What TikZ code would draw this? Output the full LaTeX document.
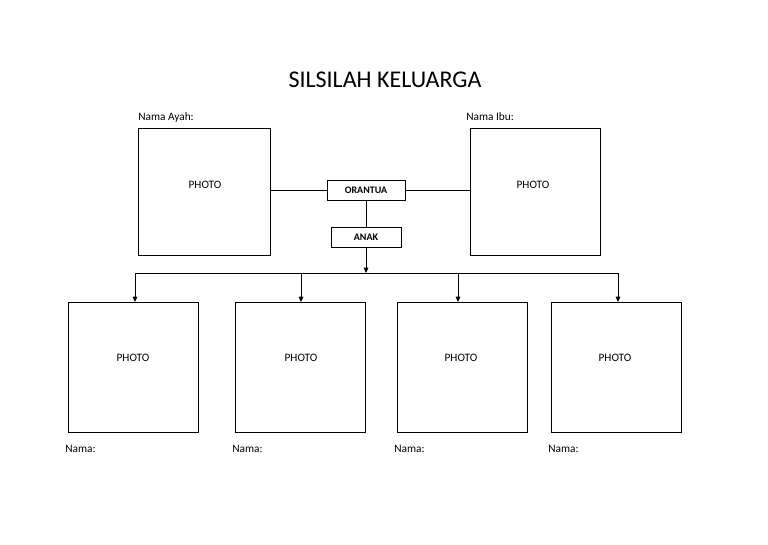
\documentclass[tikz,border=0pt]{standalone}
\usepackage{fontspec}
\setmainfont{Carlito}
\usetikzlibrary{arrows.meta}
\begin{document}
\begin{tikzpicture}[x=0.75pt,y=-0.75pt,
  photo/.style={draw,line width=0.8pt,inner sep=0pt},
  lbl/.style={font=\fontsize{8.5}{10}\selectfont,inner sep=0pt},
  tag/.style={draw,line width=0.7pt,font=\fontsize{7.5}{9}\selectfont\bfseries,inner sep=0pt},
  conn/.style={line width=0.7pt},
  arr/.style={conn,-{Triangle[length=4pt,width=3.5pt]}}]
\useasboundingbox (0,0) rectangle (768,544);
\node[font=\fontsize{18}{20}\selectfont] (title) at (385,80) {SILSILAH KELUARGA};
\node[photo,minimum width=99pt,minimum height=95pt,anchor=north west] (ayah) at (138,128) {};
\node[photo,minimum width=97.5pt,minimum height=95pt,anchor=north west] (ibu) at (470,128) {};
\node[lbl,anchor=west] (nayah) at (138,117) {Nama Ayah:};
\node[lbl,anchor=west] (nibu) at (466,117) {Nama Ibu:};
\node[lbl] (p1) at (205,185) {PHOTO};
\node[lbl] (p2) at (533,185) {PHOTO};
\node[tag,minimum width=58.5pt,minimum height=15pt] (ortu) at (366,190) {ORANTUA};
\node[tag,minimum width=52.5pt,minimum height=15.5pt] (anak) at (366,237.5) {ANAK};
\coordinate (hub) at (366,273);
\coordinate (hl) at (135,273);
\coordinate (hr) at (618,273);
\draw[conn] (ayah.east |- ortu.west) -- (ortu.west);
\draw[conn] (ortu.east) -- (ibu.west |- ortu.east);
\draw[conn] (ortu.south) -- (anak.north);
\draw[arr] (anak.south) -- (hub);
\draw[conn] (hl) -- (hr);
\foreach \i/\x/\c/\px in {1/68/135/133,2/235/301/301,3/397/458/461,4/551/618/615}{
  \node[photo,minimum width=97.5pt,minimum height=97.5pt,anchor=north west] (c\i) at (\x,302) {};
  \coordinate (t\i) at (\c,273);
  \draw[arr] (t\i) -- (\c,302);
  \node[lbl] (cp\i) at (\px,358) {PHOTO};
  \node[lbl,anchor=west] (nm\i) at (\x-3,449) {Nama:};
}
\end{tikzpicture}
\end{document}
